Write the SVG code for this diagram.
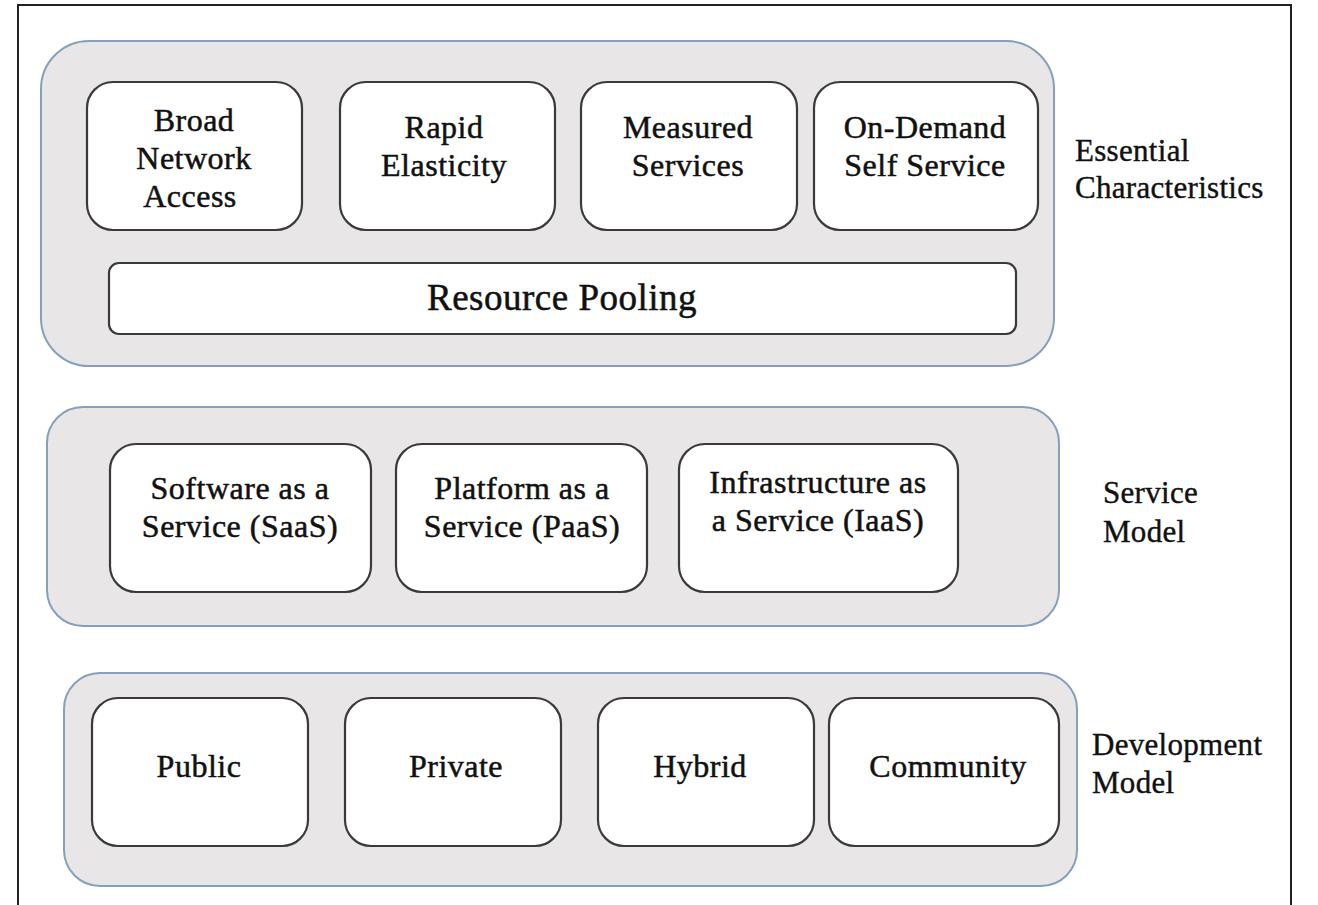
<svg xmlns="http://www.w3.org/2000/svg" width="1318" height="905" viewBox="0 0 1318 905">
<style>
.frame{fill:#fff;stroke:#222;stroke-width:2}
.grp{fill:#e8e6e7;stroke:#86a0bb;stroke-width:2}
.node{fill:#fff;stroke:#3a3a3a;stroke-width:2.2}
.t{font-family:"Liberation Serif","Times New Roman",serif;font-size:32px;letter-spacing:0.5px;fill:#111;stroke:#111;stroke-width:0.5;text-anchor:middle}
.lbl{font-family:"Liberation Serif","Times New Roman",serif;font-size:31px;letter-spacing:0.3px;fill:#111;stroke:#111;stroke-width:0.4}
</style>
<rect class="frame" x="18" y="5" width="1273" height="920"/>
<g id="essential">
<rect class="grp" x="41" y="41" width="1013" height="325" rx="48"/>
<text class="lbl" x="1075" y="161">Essential</text>
<text class="lbl" x="1075" y="198">Characteristics</text>
</g>
<g id="service">
<rect class="grp" x="47" y="407" width="1012" height="219" rx="36"/>
<text class="lbl" x="1103" y="503">Service</text>
<text class="lbl" x="1103" y="542">Model</text>
</g>
<g id="development">
<rect class="grp" x="64" y="673" width="1013" height="213" rx="36"/>
<text class="lbl" x="1092" y="755">Development</text>
<text class="lbl" x="1092" y="793">Model</text>
</g>
<g id="broad"><rect class="node" x="87" y="82" width="215" height="148" rx="26"/>
<text class="t" x="194" y="131">Broad</text><text class="t" x="194" y="169">Network</text><text class="t" x="190" y="207">Access</text></g>
<g id="rapid"><rect class="node" x="340" y="82" width="215" height="148" rx="26"/>
<text class="t" x="444" y="138">Rapid</text><text class="t" x="444" y="176">Elasticity</text></g>
<g id="measured"><rect class="node" x="581" y="82" width="216" height="148" rx="26"/>
<text class="t" x="688" y="138">Measured</text><text class="t" x="688" y="176">Services</text></g>
<g id="ondemand"><rect class="node" x="814" y="82" width="224" height="148" rx="26"/>
<text class="t" x="925" y="138">On-Demand</text><text class="t" x="925" y="176">Self Service</text></g>
<g id="pooling"><rect class="node" x="109" y="263" width="907" height="71" rx="10"/>
<text class="t" x="562" y="310" style="font-size:37px">Resource Pooling</text></g>
<g id="saas"><rect class="node" x="110" y="444" width="261" height="148" rx="26"/>
<text class="t" x="240" y="499">Software as a</text><text class="t" x="240" y="537">Service (SaaS)</text></g>
<g id="paas"><rect class="node" x="396" y="444" width="251" height="148" rx="26"/>
<text class="t" x="522" y="499">Platform as a</text><text class="t" x="522" y="537">Service (PaaS)</text></g>
<g id="iaas"><rect class="node" x="679" y="444" width="279" height="148" rx="26"/>
<text class="t" x="818" y="493">Infrastructure as</text><text class="t" x="818" y="531">a Service (IaaS)</text></g>
<g id="public"><rect class="node" x="92" y="698" width="216" height="148" rx="26"/>
<text class="t" x="199" y="777">Public</text></g>
<g id="private"><rect class="node" x="345" y="698" width="216" height="148" rx="26"/>
<text class="t" x="456" y="777">Private</text></g>
<g id="hybrid"><rect class="node" x="598" y="698" width="216" height="148" rx="26"/>
<text class="t" x="700" y="777">Hybrid</text></g>
<g id="community"><rect class="node" x="829" y="698" width="230" height="148" rx="26"/>
<text class="t" x="948" y="777">Community</text></g>
<g id="connectors"></g>
</svg>
